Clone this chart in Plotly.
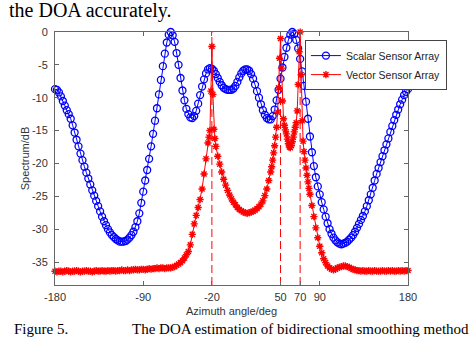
import plotly.graph_objects as go

# ---------------- data ----------------
blue_angle = list(range(-180, 181, 2))
blue_db = [
    -8.7, -8.8, -9.2, -9.8, -10.5, -11.2, -11.9, -12.5, -13.2, -14.2,
    -15.3, -16.4, -17.4, -18.5, -19.5, -20.5, -21.4, -22.3, -23.2, -24.1,
    -24.9, -25.7, -26.5, -27.3, -28.1, -28.8, -29.4, -30.0, -30.5, -30.9,
    -31.2, -31.5, -31.7, -31.9, -31.9, -31.9, -31.8, -31.6, -31.3, -30.9,
    -30.4, -29.7, -28.8, -27.6, -26.0, -24.3, -22.6, -21.0, -19.3, -17.4,
    -15.5, -13.5, -11.6, -9.5, -7.3, -5.2, -3.3, -1.6, -0.4, 0.0,
    -0.5, -1.5, -3.2, -5.0, -7.0, -8.9, -10.4, -11.7, -12.5, -13.0,
    -13.1, -12.8, -12.0, -10.9, -9.6, -8.3, -7.2, -6.3, -5.7, -5.5,
    -5.6, -5.9, -6.4, -7.0, -7.6, -8.1, -8.5, -8.7, -8.8, -8.8,
    -8.8, -8.6, -8.2, -7.6, -6.9, -6.3, -5.9, -5.7, -5.7, -5.9,
    -6.4, -7.1, -8.0, -9.0, -10.0, -11.0, -11.9, -12.6, -13.1, -13.3,
    -13.3, -12.8, -11.8, -10.4, -8.8, -7.1, -5.4, -3.8, -2.4, -1.2,
    -0.4, 0.0, -0.3, -1.2, -2.5, -4.1, -6.0, -8.2, -10.6, -13.2,
    -15.9, -18.3, -20.4, -22.1, -23.5, -24.7, -25.9, -27.0, -28.1, -29.1,
    -30.0, -30.7, -31.3, -31.7, -32.0, -32.2, -32.3, -32.2, -32.1, -31.9,
    -31.6, -31.3, -30.9, -30.4, -29.8, -29.2, -28.6, -28.0, -27.3, -26.5,
    -25.6, -24.7, -23.7, -22.6, -21.6, -20.7, -19.8, -18.9, -18.0, -17.1,
    -16.2, -15.2, -14.3, -13.4, -12.6, -11.8, -11.0, -10.3, -9.6, -9.1,
    -8.7,
]

red_angle = (list(range(-180, -23, 2)) + list(range(-23, -16)) +
             list(range(-16, 41, 2)) + list(range(41, 81)) +
             list(range(82, 181, 2)))
red_db = [
    # -180 .. -24 (step 2)
    -36.4, -36.5, -36.4, -36.4, -36.5, -36.4, -36.3, -36.4, -36.5, -36.4,
    -36.4, -36.3, -36.4, -36.5, -36.4, -36.4, -36.3, -36.4, -36.4, -36.5,
    -36.4, -36.3, -36.4, -36.4, -36.3, -36.4, -36.4, -36.3, -36.4, -36.3,
    -36.3, -36.4, -36.3, -36.3, -36.2, -36.3, -36.3, -36.2, -36.3, -36.2,
    -36.2, -36.1, -36.2, -36.2, -36.1, -36.1, -36.2, -36.1, -36.0, -36.1,
    -36.0, -36.0, -35.9, -36.0, -35.9, -35.9, -36.0, -35.9, -35.9, -35.9,
    -35.8, -35.7, -35.5, -35.3, -35.1, -34.8, -34.4, -33.9, -33.4, -32.4,
    -30.8, -29.2, -27.9, -26.7, -25.5, -23.9, -21.6, -19.3, -16.9,
    # -23 .. -17 (step 1)
    -16.0, -15.0, -9.0, -2.2, -9.5, -14.8, -16.2,
    # -16 .. 40 (step 2)
    -17.4, -18.9, -20.1, -21.3, -22.4, -23.3, -24.1, -24.8, -25.4, -25.9,
    -26.3, -26.7, -27.0, -27.2, -27.4, -27.5, -27.6, -27.5, -27.4, -27.3,
    -27.1, -26.9, -26.6, -26.2, -25.7, -24.9, -23.9, -22.6, -21.3,
    # 41 .. 80 (step 1)
    -20.5, -19.5, -18.4, -17.3, -16.0, -14.5, -12.2, -8.5, -4.0, -1.0,
    -5.5, -10.5, -13.2, -14.2, -14.9, -15.5, -16.3, -17.0, -17.5, -17.6,
    -17.3, -16.7, -16.0, -15.2, -14.5, -13.8, -12.0, -8.0, -3.0, 0.0,
    -6.5, -13.5, -16.6, -18.2, -19.5, -20.7, -21.8, -22.8, -23.8, -24.7,
    # 82 .. 180 (step 2)
    -26.4, -28.1, -29.8, -31.3, -32.6, -33.6, -34.5, -35.1, -35.6, -35.9,
    -36.1, -36.2, -36.1, -35.9, -35.8, -35.7, -35.6, -35.6, -35.7, -35.8,
    -36.0, -36.1, -36.2, -36.3, -36.3, -36.4, -36.3, -36.4, -36.4, -36.3,
    -36.4, -36.4, -36.3, -36.4, -36.4, -36.4, -36.3, -36.4, -36.4, -36.3,
    -36.4, -36.3, -36.4, -36.4, -36.3, -36.4, -36.3, -36.4, -36.3, -36.3,
]

true_doa = [-20, 50, 70]
x_ticks = [-180, -90, -20, 50, 70, 90, 180]
x_tick_labels = ["-180", "-90", "-20", "50", "70", "90", "180"]
y_ticks = [0, -5, -10, -15, -20, -25, -30, -35]
y_tick_labels = ["0", "-5", "-10", "-15", "-20", "-25", "-30", "-35"]

# ---------------- figure ----------------
FONT = "Liberation Sans, Arial, sans-serif"
SERIF = "Liberation Serif, Times New Roman, serif"

fig = go.Figure()
fig.add_trace(go.Scatter(
    x=blue_angle, y=blue_db, mode="lines+markers", name="Scalar Sensor Array",
    line=dict(color="#0000ff", width=1),
    marker=dict(symbol="circle-open", size=7, color="#0000ff", line=dict(width=1.3)),
    cliponaxis=False,
))
fig.add_trace(go.Scatter(
    x=red_angle, y=red_db, mode="lines+markers", name="Vector Sensor Array",
    line=dict(color="#ff0000", width=1),
    marker=dict(symbol="asterisk-open", size=6, color="#ff0000", line=dict(width=1.4, color="#ff0000")),
    cliponaxis=False,
))

for a in true_doa:
    fig.add_shape(type="line", x0=a, x1=a, y0=0, y1=1, xref="x", yref="y domain",
                  line=dict(color="#ff0000", width=1, dash="8px,4px"), layer="below")

axis_common = dict(
    showgrid=False, zeroline=False, showline=True, linecolor="#666666", linewidth=1,
    mirror="ticks", ticks="inside", ticklen=4, tickcolor="#666666",
    tickfont=dict(family=FONT, size=11, color="#333333"),
)

fig.update_layout(
    width=474, height=338,
    margin=dict(l=55, r=66, t=32, b=53),
    paper_bgcolor="white", plot_bgcolor="white",
    font=dict(family=FONT, color="#333333"),
    xaxis=dict(range=[-180, 180], tickvals=x_ticks, ticktext=x_tick_labels, ticklabelstandoff=2,
               title=dict(text="Azimuth angle/deg", font=dict(family=FONT, size=11, color="#333333"), standoff=5),
               **axis_common),
    yaxis=dict(range=[-38.5, 0], tickvals=y_ticks, ticktext=y_tick_labels, ticklabelstandoff=4,
               title=dict(text="Spectrum/dB", font=dict(family=FONT, size=11, color="#333333"), standoff=0),
               **axis_common),
    legend=dict(x=0.708, y=0.968, xanchor="left", yanchor="top",
                bgcolor="white", bordercolor="#444444", borderwidth=1,
                font=dict(family=FONT, size=10.5, color="#222222"),
                tracegroupgap=0, itemwidth=30),
    showlegend=True,
)

fig.add_annotation(text="the DOA accurately.", xref="paper", yref="paper",
                   x=(7 - 55) / 353, y=1 + (32 - 10) / 253, xanchor="left", yanchor="middle",
                   showarrow=False, font=dict(family=SERIF, size=20, color="#000000"))
fig.add_annotation(text="Figure 5.", xref="paper", yref="paper",
                   x=(70 - 55) / 353, y=(285 - 319) / 253, xanchor="right", yanchor="top",
                   showarrow=False, font=dict(family=SERIF, size=15, color="#000000"))
fig.add_annotation(text="The DOA estimation of bidirectional smoothing method",
                   xref="paper", yref="paper",
                   x=(130 - 55) / 353, y=(285 - 319) / 253, xanchor="left", yanchor="top",
                   showarrow=False, font=dict(family=SERIF, size=15, color="#000000"))

fig.write_html("out.html")
